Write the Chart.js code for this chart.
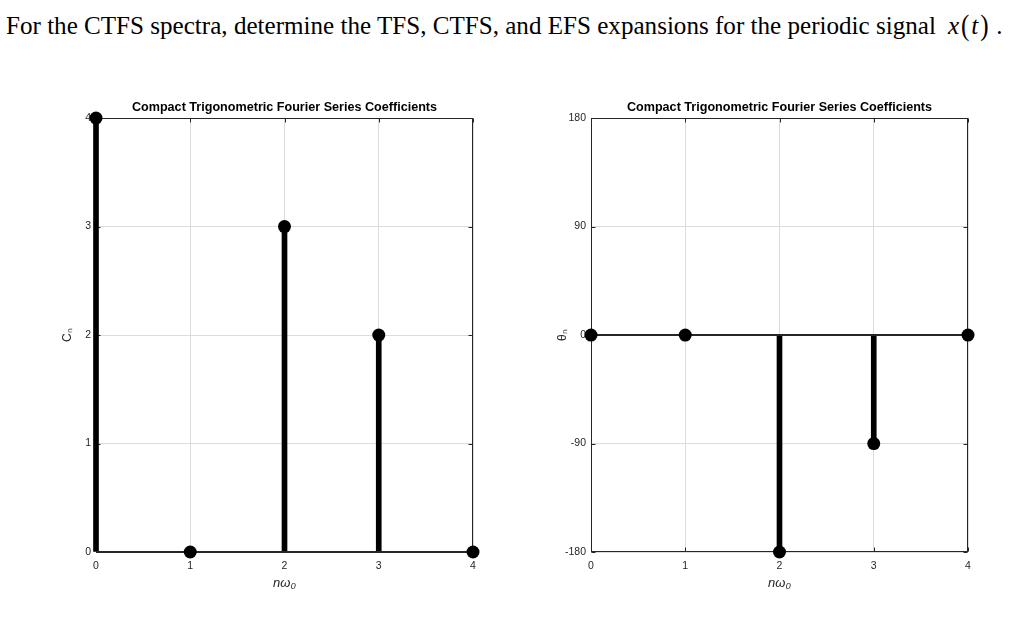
<!DOCTYPE html>
<html>
<head>
<meta charset="utf-8">
<script src="https://cdn.jsdelivr.net/npm/chart.js@4/dist/chart.umd.min.js"></script>
<style>
  html, body { margin: 0; padding: 0; background: #fff; }
  body { width: 1022px; height: 618px; position: relative; overflow: hidden; }
  #question {
    position: absolute; left: 6px; top: 11px;
    font-family: "Liberation Serif", "Times New Roman", serif;
    font-size: 26px; white-space: nowrap; color: #000;
    transform: scaleX(0.965); transform-origin: 0 0;
  }
  #question .math { margin-left: 6px; }
  #question .par { display: inline-block; transform: scaleY(1.15); margin: 0 2px; }
  #question .dot { margin-left: 6px; }
  .panel { position: absolute; top: 90px; width: 511px; height: 528px; }
  #leftPanel { left: 0; }
  #rightPanel { left: 511px; }
</style>
</head>
<body>
<div id="question">For the CTFS spectra, determine the TFS, CTFS, and EFS expansions for the periodic signal <span class="math"><i>x</i><span class="par">(</span><i>t</i><span class="par">)</span><span class="dot">.</span></span></div>
<div class="panel" id="leftPanel"><canvas id="cnChart"></canvas></div>
<div class="panel" id="rightPanel"><canvas id="thetaChart"></canvas></div>
<script>
// data
const harmonics = [0, 1, 2, 3, 4];
const cnValues = [4, 0, 3, 2, 0];
const thetaValues = [0, 0, -180, -90, 0];
const cnTicks = [0, 1, 2, 3, 4];
const thetaTicks = [-180, -90, 0, 90, 180];
const chartTitle = 'Compact Trigonometric Fourier Series Coefficients';

const fontFamily = '"Liberation Sans", Arial, Helvetica, sans-serif';
const axisColor = '#262626';
const gridColor = '#dcdcdc';

// matlab style box with inward ticks
const boxPlugin = {
    id: 'box',
    beforeDatasetsDraw(chart) {
        const { ctx, chartArea: a, scales: { x, y } } = chart;
        const l = Math.round(a.left) + 0.5, r = Math.round(a.right) - 0.5;
        const t = Math.round(a.top) + 0.5, b = Math.round(a.bottom) - 0.5;
        ctx.save();
        ctx.strokeStyle = axisColor;
        ctx.lineWidth = 1;
        ctx.strokeRect(l, t, r - l, b - t);
        ctx.beginPath();
        x.ticks.forEach(tk => {
            const px = Math.round(x.getPixelForValue(tk.value)) + 0.5;
            ctx.moveTo(px, b); ctx.lineTo(px, b - 4);
            ctx.moveTo(px, t); ctx.lineTo(px, t + 4);
        });
        y.ticks.forEach(tk => {
            const py = Math.round(y.getPixelForValue(tk.value)) + 0.5;
            ctx.moveTo(l, py); ctx.lineTo(l + 4, py);
            ctx.moveTo(r, py); ctx.lineTo(r - 4, py);
        });
        ctx.stroke();
        ctx.restore();
    }
};

function makeStemChart(canvasId, values, yTicks, yTitle, padLeft, padRight) {
    const points = harmonics.map((n, i) => ({ x: n, y: values[i] }));
    const baseline = harmonics.map(n => ({ x: n, y: 0 }));
    return new Chart(document.getElementById(canvasId), {
        type: 'bar',
        data: {
            datasets: [{
                type: 'line',
                data: points,
                showLine: false,
                pointRadius: 6.5,
                pointHoverRadius: 6.5,
                pointBackgroundColor: '#000',
                pointBorderWidth: 0,
                clip: false,
                order: 0
            }, {
                type: 'line',
                data: baseline,
                borderColor: axisColor,
                borderWidth: 2,
                pointRadius: 0,
                clip: false,
                order: 1
            }, {
                type: 'bar',
                data: points,
                backgroundColor: '#000',
                barThickness: 5,
                clip: false,
                order: 2
            }]
        },
        options: {
            responsive: true,
            maintainAspectRatio: false,
            animation: false,
            events: [],
            layout: { padding: { left: padLeft, right: padRight, top: 3, bottom: 24 } },
            plugins: {
                legend: { display: false },
                tooltip: { enabled: false },
                title: {
                    display: true,
                    text: chartTitle,
                    fullSize: false,
                    color: '#000',
                    font: { family: fontFamily, size: 12.6, weight: 'bold' },
                    padding: { top: 7, bottom: 3 }
                }
            },
            scales: {
                x: {
                    type: 'linear',
                    min: harmonics[0],
                    max: harmonics[harmonics.length - 1],
                    offset: false,
                    afterBuildTicks: s => { s.ticks = harmonics.map(v => ({ value: v })); },
                    afterFit: s => { s.height = 42; },
                    grid: { color: gridColor, drawTicks: false, offset: false },
                    border: { display: false },
                    ticks: { color: axisColor, font: { family: fontFamily, size: 10.5 }, padding: 8, maxRotation: 0 },
                    title: {
                        display: true,
                        text: 'nω₀',
                        color: axisColor,
                        font: { family: fontFamily, size: 13, style: 'italic' },
                        padding: { top: 0, bottom: 3 }
                    }
                },
                y: {
                    type: 'linear',
                    min: yTicks[0],
                    max: yTicks[yTicks.length - 1],
                    afterBuildTicks: s => { s.ticks = yTicks.map(v => ({ value: v })); },
                    afterFit: s => { s.width = 39; },
                    grid: { color: gridColor, drawTicks: false },
                    border: { display: false },
                    ticks: { color: axisColor, font: { family: fontFamily, size: 10.5 }, padding: 5 },
                    title: {
                        display: true,
                        text: yTitle,
                        color: axisColor,
                        font: { family: fontFamily, size: 12 },
                        padding: { top: 3, bottom: 3 }
                    }
                }
            }
        },
        plugins: [boxPlugin]
    });
}

makeStemChart('cnChart', cnValues, cnTicks, 'Cₙ', 57, 38);
makeStemChart('thetaChart', thetaValues, thetaTicks, 'θₙ', 41, 54);
</script>
</body>
</html>
